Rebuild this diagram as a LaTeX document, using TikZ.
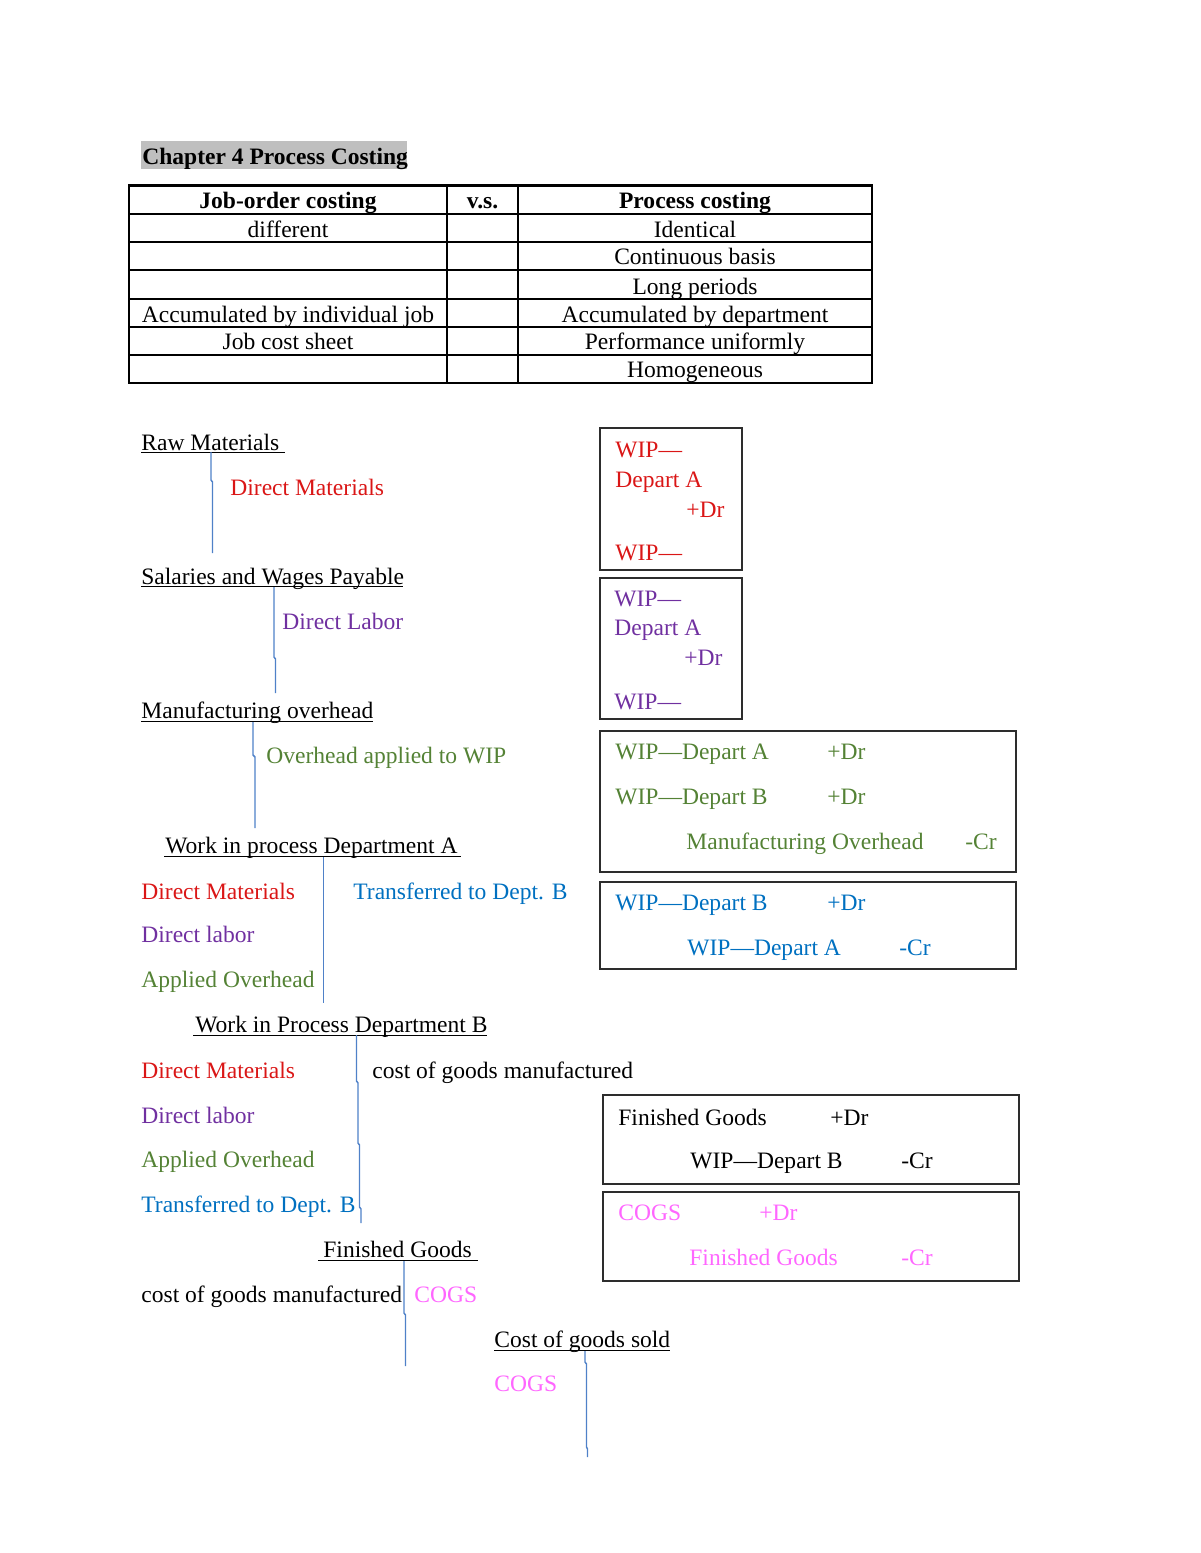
\documentclass[tikz,border=0pt]{standalone}
\usepackage{fontspec}
\setmainfont{Liberation Serif}
\definecolor{cred}{RGB}{218,22,22}
\definecolor{cpurple}{RGB}{112,48,160}
\definecolor{cgreen}{RGB}{84,130,53}
\definecolor{cblue}{RGB}{0,112,192}
\definecolor{cmag}{RGB}{255,102,255}
\definecolor{tblue}{RGB}{79,129,200}
\definecolor{hl}{RGB}{191,191,191}
\definecolor{boxc}{RGB}{45,45,45}
\tikzset{
  txt/.style={anchor=base west, inner sep=0pt, font=\fontsize{12}{14}\selectfont},
  ctxt/.style={anchor=base, inner sep=0pt, font=\fontsize{12}{14}\selectfont},
  tline/.style={draw=tblue, line width=0.75pt},
  uline/.style={draw=black, line width=0.5pt},
  grid/.style={draw=black, line width=1.2pt},
  jbox/.style={draw=boxc, line width=0.8pt},
}
\begin{document}
\begin{tikzpicture}[x=0.51pt,y=-0.51pt]
\useasboundingbox (0,0) rectangle (1200,1553);
% title
\fill[hl] (141,141) rectangle (407,169);
\node[txt, font=\fontsize{12}{14}\selectfont\bfseries] (title) at (142,164.5) {Chapter 4 Process Costing};
% table
\draw[grid] (129,185.5) rectangle (872,383);
\foreach \yy in {214,242,270,299,327,355} {\draw[grid] (129,\yy) -- (872,\yy);}
\draw[grid] (447,185.5) -- (447,383);
\draw[grid] (518,185.5) -- (518,383);
\node[ctxt, font=\fontsize{12}{14}\selectfont\bfseries] (h1) at (288,209) {Job-order costing};
\node[ctxt, font=\fontsize{12}{14}\selectfont\bfseries] (h2) at (482.5,209) {v.s.};
\node[ctxt, font=\fontsize{12}{14}\selectfont\bfseries] (h3) at (695,209) {Process costing};
\node[ctxt] (a1) at (288,237) {different};
\node[ctxt] (b1) at (695,237) {Identical};
\node[ctxt] (b2) at (695,265) {Continuous basis};
\node[ctxt] (b3) at (695,294) {Long periods};
\node[ctxt] (a4) at (288,322) {Accumulated by individual job};
\node[ctxt] (b4) at (695,322) {Accumulated by department};
\node[ctxt] (a5) at (288,349.5) {Job cost sheet};
\node[ctxt] (b5) at (695,349.5) {Performance uniformly};
\node[ctxt] (b6) at (695,377.5) {Homogeneous};

% T account: Raw Materials
\node[txt] (rm) at (141,450) {Raw Materials};
\draw[uline] (141,452.5) -- (285,452.5);
\node[txt, text=cred] (rmdm) at (230,495) {Direct Materials};
\coordinate (l1a) at (211,452); \coordinate (l1b) at (211,480);
\coordinate (l1c) at (212.5,482); \coordinate (l1d) at (212.5,553);
\draw[tline] (l1a) -- (l1b) -- (l1c) -- (l1d);

% Salaries
\node[txt] (sw) at (141,584) {Salaries and Wages Payable};
\draw[uline] (141,586.5) -- (403,586.5);
\node[txt, text=cpurple] (swdl) at (282,629) {Direct Labor};
\coordinate (l2a) at (274,587); \coordinate (l2b) at (274,657);
\coordinate (l2c) at (275.5,659); \coordinate (l2d) at (275.5,693);
\draw[tline] (l2a) -- (l2b) -- (l2c) -- (l2d);

% Manufacturing overhead
\node[txt] (mo) at (141,718) {Manufacturing overhead};
\draw[uline] (141,721) -- (373,721);
\node[txt, text=cgreen] (moap) at (266,763) {Overhead applied to WIP};
\coordinate (l3a) at (253,722); \coordinate (l3b) at (253,755);
\coordinate (l3c) at (255,757); \coordinate (l3d) at (255,828);
\draw[tline] (l3a) -- (l3b) -- (l3c) -- (l3d);

% WIP A
\node[txt] (wa) at (165,853) {Work in process Department A};
\draw[uline] (164,856) -- (461,856);
\node[txt, text=cred] (wadm) at (141,899) {Direct Materials};
\node[txt, text=cpurple] (wadl) at (141,942) {Direct labor};
\node[txt, text=cgreen] (waao) at (141,987) {Applied Overhead};
\node[txt, text=cblue] (watr) at (353,899) {Transferred to Dept. B};
\coordinate (l4a) at (323.5,857); \coordinate (l4b) at (323.5,1003);
\draw[tline] (l4a) -- (l4b);

% WIP B
\node[txt] (wb) at (195,1032) {Work in Process Department B};
\draw[uline] (193,1035) -- (487,1035);
\node[txt, text=cred] (wbdm) at (141,1078) {Direct Materials};
\node[txt, text=cpurple] (wbdl) at (141,1123) {Direct labor};
\node[txt, text=cgreen] (wbao) at (141,1167) {Applied Overhead};
\node[txt, text=cblue] (wbtr) at (141,1212) {Transferred to Dept. B};
\node[txt] (wbcg) at (372,1078) {cost of goods manufactured};
\coordinate (l5a) at (356.5,1035); \coordinate (l5b) at (356.5,1081);
\coordinate (l5c) at (358,1083); \coordinate (l5d) at (358,1143);
\coordinate (l5e) at (359.5,1145); \coordinate (l5f) at (359.5,1207);
\coordinate (l5g) at (361,1209); \coordinate (l5h) at (361,1223);
\draw[tline] (l5a) -- (l5b) -- (l5c) -- (l5d) -- (l5e) -- (l5f) -- (l5g) -- (l5h);

% Finished Goods
\node[txt] (fg) at (323,1257) {Finished Goods};
\draw[uline] (318,1260) -- (478,1260);
\node[txt] (fgcg) at (141,1302) {cost of goods manufactured};
\node[txt, text=cmag] (fgco) at (414,1302) {COGS};
\coordinate (l6a) at (404,1261); \coordinate (l6b) at (404,1313);
\coordinate (l6c) at (405.5,1315); \coordinate (l6d) at (405.5,1366);
\draw[tline] (l6a) -- (l6b) -- (l6c) -- (l6d);

% Cost of goods sold
\node[txt] (cs) at (494,1347) {Cost of goods sold};
\draw[uline] (494,1350) -- (670,1350);
\node[txt, text=cmag] (csco) at (494,1391) {COGS};
\coordinate (l7a) at (585,1351); \coordinate (l7b) at (585,1362);
\coordinate (l7c) at (586.5,1364); \coordinate (l7d) at (586.5,1447);
\coordinate (l7e) at (587.5,1449); \coordinate (l7f) at (587.5,1457);
\draw[tline] (l7a) -- (l7b) -- (l7c) -- (l7d) -- (l7e) -- (l7f);

% Journal boxes
\draw[jbox] (600,428) rectangle (742,570);
\node[txt, text=cred] (j1a) at (615,457) {WIP—};
\node[txt, text=cred] (j1b) at (615,487) {Depart A};
\node[txt, text=cred] (j1c) at (686,517) {+Dr};
\node[txt, text=cred] (j1d) at (615,560) {WIP—};

\draw[jbox] (600,578) rectangle (742,719);
\node[txt, text=cpurple] (j2a) at (614,606) {WIP—};
\node[txt, text=cpurple] (j2b) at (614,635) {Depart A};
\node[txt, text=cpurple] (j2c) at (684,665) {+Dr};
\node[txt, text=cpurple] (j2d) at (614,709) {WIP—};

\draw[jbox] (600,731) rectangle (1016,872);
\node[txt, text=cgreen] (j3a) at (615,759) {WIP—Depart A};
\node[txt, text=cgreen] (j3b) at (827,759) {+Dr};
\node[txt, text=cgreen] (j3c) at (615,804) {WIP—Depart B};
\node[txt, text=cgreen] (j3d) at (827,804) {+Dr};
\node[txt, text=cgreen] (j3e) at (686,849) {Manufacturing Overhead};
\node[txt, text=cgreen] (j3f) at (965,849) {-Cr};

\draw[jbox] (600,882) rectangle (1016,969);
\node[txt, text=cblue] (j4a) at (615,910) {WIP—Depart B};
\node[txt, text=cblue] (j4b) at (827,910) {+Dr};
\node[txt, text=cblue] (j4c) at (687,955) {WIP—Depart A};
\node[txt, text=cblue] (j4d) at (899,955) {-Cr};

\draw[jbox] (603,1095) rectangle (1019,1184);
\node[txt] (j5a) at (618,1125) {Finished Goods};
\node[txt] (j5b) at (830,1125) {+Dr};
\node[txt] (j5c) at (690,1168) {WIP—Depart B};
\node[txt] (j5d) at (901,1168) {-Cr};

\draw[jbox] (603,1192) rectangle (1019,1281);
\node[txt, text=cmag] (j6a) at (618,1220) {COGS};
\node[txt, text=cmag] (j6b) at (759,1220) {+Dr};
\node[txt, text=cmag] (j6c) at (689,1265) {Finished Goods};
\node[txt, text=cmag] (j6d) at (901,1265) {-Cr};
\end{tikzpicture}
\end{document}
